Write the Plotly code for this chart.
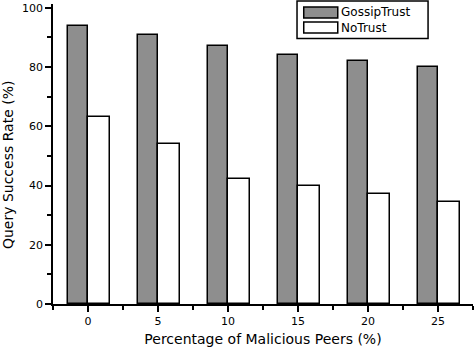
import plotly.graph_objects as go

# Query success rate versus share of malicious peers
malicious_pct = [0, 5, 10, 15, 20, 25]
gossiptrust = [94, 91, 87, 84, 82, 80]
notrust = [63, 54, 42.2, 39.8, 37.1, 34.4]

FONT = "DejaVu Sans, Verdana, sans-serif"
GRAY = "#8e8e8e"

fig = go.Figure()
fig.add_trace(go.Bar(
    x=malicious_pct, y=gossiptrust, name="GossipTrust",
    width=1.45, offset=-1.45,
    marker=dict(color=GRAY, line=dict(color="black", width=1.5)),
    showlegend=False,
))
fig.add_trace(go.Bar(
    x=malicious_pct, y=notrust, name="NoTrust",
    width=1.55, offset=0,
    marker=dict(color="white", line=dict(color="black", width=1.5)),
    showlegend=False,
))

# Boxed legend with wide swatches
shapes = [
    dict(type="rect", xref="paper", yref="paper", x0=0.581, x1=0.893, y0=0.885, y1=1.01,
         line=dict(color="black", width=1.5), fillcolor="white", layer="above"),
    dict(type="rect", xref="paper", yref="paper", x0=0.597, x1=0.678, y0=0.953, y1=0.99,
         line=dict(color="black", width=1.5), fillcolor=GRAY, layer="above"),
    dict(type="rect", xref="paper", yref="paper", x0=0.597, x1=0.678, y0=0.903, y1=0.94,
         line=dict(color="black", width=1.5), fillcolor="white", layer="above"),
]
annotations = [
    dict(text="GossipTrust", xref="paper", yref="paper", x=0.681, y=0.972,
         xanchor="left", yanchor="middle", showarrow=False,
         font=dict(family=FONT, size=12, color="black")),
    dict(text="NoTrust", xref="paper", yref="paper", x=0.681, y=0.92,
         xanchor="left", yanchor="middle", showarrow=False,
         font=dict(family=FONT, size=12, color="black")),
    # y-axis title, set a little below the plot's midpoint
    dict(text="Query Success Rate (%)", xref="paper", yref="paper",
         x=0, xshift=-45, y=0.463, textangle=-90,
         xanchor="center", yanchor="middle", showarrow=False,
         font=dict(family=FONT, size=14, color="black")),
]

fig.update_layout(
    width=474, height=348,
    margin=dict(l=53, r=1, t=4, b=44),
    paper_bgcolor="white", plot_bgcolor="white",
    font=dict(family=FONT, size=11, color="black"),
    bargap=0,
    shapes=shapes,
    annotations=annotations,
    xaxis=dict(
        range=[-2.5, 27.5], tickvals=malicious_pct,
        ticks="outside", ticklen=6, tickwidth=1.5, tickcolor="black",
        minor=dict(tickvals=[-2.5, 2.5, 7.5, 12.5, 17.5, 22.5, 27.5],
                   ticks="outside", ticklen=4, tickwidth=1.5, tickcolor="black"),
        showline=True, linecolor="black", linewidth=1.8,
        showgrid=False, zeroline=False,
        tickfont=dict(size=11),
        title=dict(text="Percentage of Malicious Peers (%)",
                   font=dict(size=14), standoff=7),
    ),
    yaxis=dict(
        range=[0, 101.3], tickvals=[0, 20, 40, 60, 80, 100],
        ticks="outside", ticklen=6, tickwidth=1.5, tickcolor="black",
        minor=dict(tickvals=[10, 30, 50, 70, 90],
                   ticks="outside", ticklen=4, tickwidth=1.5, tickcolor="black"),
        showline=True, linecolor="black", linewidth=1.8,
        showgrid=False, zeroline=False,
        tickfont=dict(size=11),
    ),
)

fig.write_html("out.html")
